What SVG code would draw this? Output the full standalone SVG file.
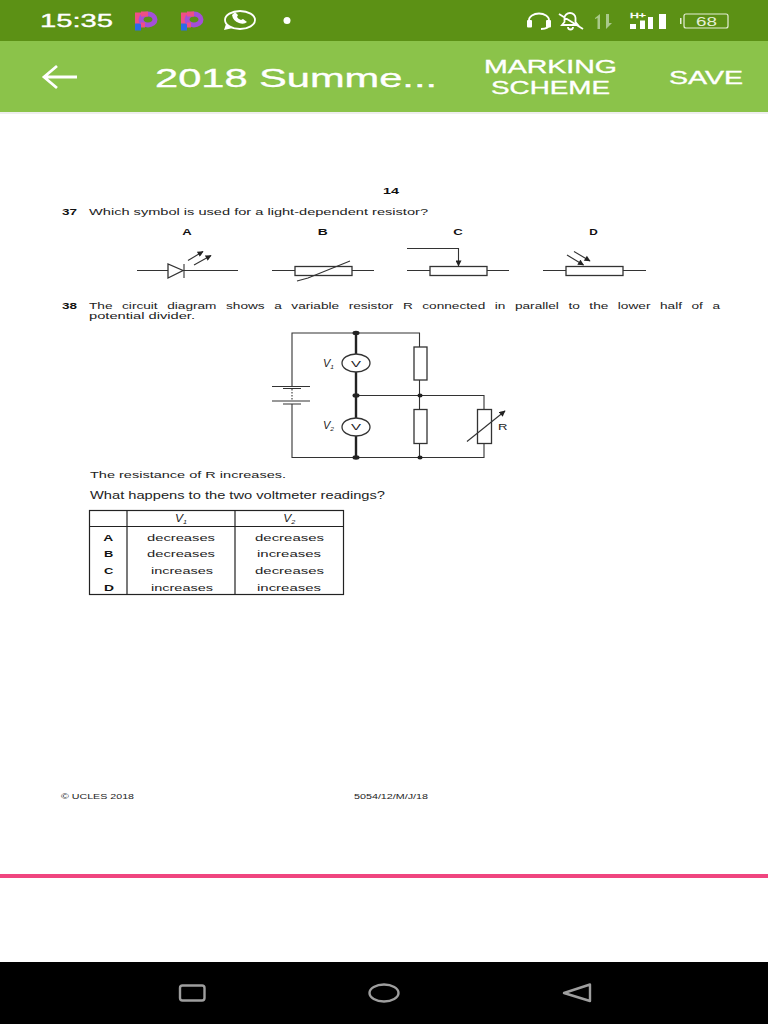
<svg xmlns="http://www.w3.org/2000/svg" width="768" height="1024" viewBox="0 0 768 1024">
<style>
text{font-family:"Liberation Sans",Arial,sans-serif;fill:#222}
.ui{fill:#fff;stroke:#fff;stroke-width:.35}
.b{font-weight:700;fill:#111}
.t{font-size:9.5px}
.w{fill:none;stroke:#333;stroke-width:1.100}
.th{fill:none;stroke:#222;stroke-width:2.400}
.r{fill:#fff;stroke:#333;stroke-width:1.300}
.nav{fill:none;stroke:#9e9e9e;stroke-width:2.400;stroke-linejoin:round}
.ic{fill:none;stroke:#fff;stroke-width:1.800}
.cell{fill:none;stroke:#222;stroke-width:1.200}
</style>
<defs>
<marker id="ah" viewBox="0 0 10 10" refX="9" refY="5" markerWidth="7" markerHeight="6" markerUnits="userSpaceOnUse" orient="auto"><path d="M0 0L10 5L0 10z" fill="#222"/></marker>
<g id="pimg">
<path d="M0 1h8v12h-8z" fill="#ef4f86"/>
<path d="M0 12h6v7h-6z" fill="#2b6be8"/>
<ellipse cx="13" cy="8" rx="7" ry="5.500" fill="none" stroke="#a44fd8" stroke-width="5"/>
<path d="M6 2.500h7M6 13.500h4" stroke="#ef4f86" stroke-width="5" fill="none"/>
</g>
</defs>
<rect width="768" height="1024" fill="#fff"/>
<g id="status-bar">
<rect width="768" height="41" fill="#5c9115"/>
<text class="ui" x="40" y="27" font-size="18.500" textLength="73" lengthAdjust="spacingAndGlyphs">15:35</text>
<use href="#pimg" x="135" y="11.500"/>
<use href="#pimg" x="181" y="11.500"/>
<ellipse class="ic" cx="240" cy="20" rx="15" ry="9"/>
<path d="M226 24L224 30L233 28Z" fill="#fff"/>
<path d="M232 15q1 6 7 8q5 2 8 -1l-4 -3l-2 1q-3 -1 -4 -3l1 -2l-3 -3z" fill="#fff"/>
<circle cx="287" cy="20.500" r="3.500" fill="#fff"/>
<path class="ic" d="M529 24v-4a10 6.500 0 0 1 20 0v4q0 5 -8 5" stroke-width="2.200"/>
<rect x="527" y="20" width="5" height="7.500" rx="1" fill="#fff"/><rect x="546" y="20" width="5" height="7.500" rx="1" fill="#fff"/>
<path class="ic" d="M562 25l2.500 -3v-4a5.500 5 0 0 1 11 0v4l2.500 3zM559 14l24 15M568 27a2 2 0 0 0 5 0" stroke-width="1.700"/>
<path d="M600 29V14l-5 4v1l2.500 -1v11zM606 14v15l6 -6h-3v-9z" fill="#a9c98a"/>
<text x="630" y="18" font-size="7" class="ui" textLength="16" lengthAdjust="spacingAndGlyphs">H+</text>
<rect x="630" y="24" width="6" height="5" fill="#fff"/><rect x="640" y="20.500" width="5" height="8.500" fill="#fff"/><rect x="648" y="17" width="5" height="12" fill="#fff"/><rect x="659" y="14" width="7" height="15" fill="#fff"/>
<rect x="684" y="14" width="44" height="14" rx="2" fill="none" stroke="#e6efd8" stroke-width="1.200"/>
<rect x="680" y="18" width="1.500" height="6" fill="#e6efd8"/>
<text x="696" y="26" font-size="12" style="fill:#e6efd8" textLength="21" lengthAdjust="spacingAndGlyphs">68</text>
</g>
<g id="app-bar">
<rect y="41" width="768" height="71" fill="#8bc34a"/>
<rect y="112" width="768" height="2" fill="#eee"/>
<path d="M77 77H45M57 66L44 77L57 88" fill="none" stroke="#fff" stroke-width="2.800"/>
<text class="ui" x="155" y="87" font-size="26.500" textLength="282" lengthAdjust="spacingAndGlyphs">2018 Summe...</text>
<text class="ui" x="484" y="73" font-size="18" textLength="133" lengthAdjust="spacingAndGlyphs">MARKING</text>
<text class="ui" x="491" y="94" font-size="18" textLength="119" lengthAdjust="spacingAndGlyphs">SCHEME</text>
<text class="ui" x="669" y="84" font-size="18" textLength="74" lengthAdjust="spacingAndGlyphs">SAVE</text>
</g>
<g id="question-37">
<text class="b t" x="383" y="194" textLength="16" lengthAdjust="spacingAndGlyphs">14</text>
<text class="b t" x="62" y="215" textLength="15" lengthAdjust="spacingAndGlyphs">37</text>
<text class="t" x="89" y="215" textLength="339" lengthAdjust="spacingAndGlyphs">Which symbol is used for a light-dependent resistor?</text>
<text class="b t" x="182.300" y="235" textLength="9.500" lengthAdjust="spacingAndGlyphs">A</text>
<text class="b t" x="317.700" y="235" textLength="10" lengthAdjust="spacingAndGlyphs">B</text>
<text class="b t" x="453.300" y="235" textLength="9.500" lengthAdjust="spacingAndGlyphs">C</text>
<text class="b t" x="589.300" y="235" textLength="8.500" lengthAdjust="spacingAndGlyphs">D</text>
</g>
<g id="symbol-A">
<path class="w" d="M137 270.500H238"/>
<path d="M168 264V278L183 270.500Z" fill="#fff" stroke="#333" stroke-width="1.300"/>
<path class="w" d="M184 264V278"/>
<path class="w" marker-end="url(#ah)" d="M188 260.500L203 251.500"/>
<path class="w" marker-end="url(#ah)" d="M194 265L211 255.500"/>
</g>
<g id="symbol-B">
<path class="w" d="M272 270.500H374"/>
<rect class="r" x="295" y="266.500" width="57" height="9"/>
<path class="w" d="M297 281L308 278L350 261"/>
</g>
<g id="symbol-C">
<path class="w" d="M407 270.500H509"/>
<rect class="r" x="430" y="266.500" width="57" height="9"/>
<path class="w" marker-end="url(#ah)" d="M407 248.500H458.500V266"/>
</g>
<g id="symbol-D">
<path class="w" d="M543 270.500H646"/>
<rect class="r" x="566" y="266.500" width="57" height="9"/>
<path class="w" marker-end="url(#ah)" d="M567 255L583.500 265"/>
<path class="w" marker-end="url(#ah)" d="M574 251.500L590 261"/>
</g>
<g id="question-38">
<text class="b t" x="62" y="309" textLength="15" lengthAdjust="spacingAndGlyphs">38</text>
<text class="t" x="89" y="309" word-spacing="4" textLength="631" lengthAdjust="spacingAndGlyphs">The circuit diagram shows a variable resistor R connected in parallel to the lower half of a</text>
<text class="t" x="89" y="319" textLength="106" lengthAdjust="spacingAndGlyphs">potential divider.</text>
</g>
<g id="connectors">
<path class="w" d="M356 333H292V386M292 404V457.500H356"/>
<path class="w" d="M292 389V401" stroke-dasharray="1.500 1.500"/>
<path class="w" d="M356 333H419.500V347M419.500 380V409M419.500 443V457.500M356 457.500H484V443M356 395.500H484V409"/>
<path class="th" d="M356 333V354M356 372V418M356 436V457.500"/>
<ellipse cx="356" cy="333" rx="3.500" ry="2.200" fill="#222"/><ellipse cx="356" cy="395.500" rx="3.500" ry="2.200" fill="#222"/><ellipse cx="356" cy="457.500" rx="3.500" ry="2.200" fill="#222"/>
<ellipse cx="420" cy="395.500" rx="2.600" ry="2" fill="#222"/><ellipse cx="420" cy="457.500" rx="2.600" ry="2" fill="#222"/>
</g>
<g id="battery">
<path d="M272 386.500H310M272 401H310" stroke="#333" stroke-width="1.200"/>
<path d="M283 388.500H301M283 404H301" stroke="#333" stroke-width="1.200"/>
</g>
<g id="voltmeter-V1">
<ellipse class="r" cx="356" cy="363" rx="14" ry="9"/>
<text class="t" x="351" y="367" textLength="10" lengthAdjust="spacingAndGlyphs">V</text>
<text x="323" y="367" font-size="10" font-style="italic" textLength="11" lengthAdjust="spacingAndGlyphs">V<tspan font-size="6" dy="2">1</tspan></text>
</g>
<g id="voltmeter-V2">
<ellipse class="r" cx="356" cy="427" rx="14" ry="9"/>
<text class="t" x="351" y="430" textLength="10" lengthAdjust="spacingAndGlyphs">V</text>
<text x="323" y="429" font-size="10" font-style="italic" textLength="11" lengthAdjust="spacingAndGlyphs">V<tspan font-size="6" dy="2">2</tspan></text>
</g>
<g id="resistor-upper"><rect class="r" x="414" y="347" width="13" height="33"/></g>
<g id="resistor-lower"><rect class="r" x="414" y="409.500" width="13" height="34"/></g>
<g id="resistor-R">
<rect class="r" x="477.500" y="409.500" width="14" height="34"/>
<path class="w" marker-end="url(#ah)" d="M467 441.500L505 411"/>
<text class="t" x="498" y="429.500" textLength="9.500" lengthAdjust="spacingAndGlyphs">R</text>
</g>
<g id="question-text">
<text class="t" x="90" y="478" textLength="196" lengthAdjust="spacingAndGlyphs">The resistance of R increases.</text>
<text x="90" y="499" font-size="11" textLength="295" lengthAdjust="spacingAndGlyphs">What happens to the two voltmeter readings?</text>
</g>
<g id="table">
<rect class="cell" x="89.500" y="510.500" width="254" height="84"/>
<path class="cell" d="M89.500 526.500H343.500M127 510.500V594.500M235 510.500V594.500"/>
<text x="175" y="522" font-size="10" font-style="italic" textLength="12" lengthAdjust="spacingAndGlyphs">V<tspan font-size="6" dy="1.500">1</tspan></text>
<text x="283.300" y="522" font-size="10" font-style="italic" textLength="12" lengthAdjust="spacingAndGlyphs">V<tspan font-size="6" dy="1.500">2</tspan></text>
<text class="b t" x="103.300" y="541" textLength="10" lengthAdjust="spacingAndGlyphs">A</text>
<text class="b t" x="104" y="557" textLength="9.300" lengthAdjust="spacingAndGlyphs">B</text>
<text class="b t" x="104" y="574" textLength="9.300" lengthAdjust="spacingAndGlyphs">C</text>
<text class="b t" x="104" y="590.500" textLength="10" lengthAdjust="spacingAndGlyphs">D</text>
<text class="t" x="147" y="541" textLength="68" lengthAdjust="spacingAndGlyphs">decreases</text>
<text class="t" x="255" y="541" textLength="69" lengthAdjust="spacingAndGlyphs">decreases</text>
<text class="t" x="147" y="557" textLength="68" lengthAdjust="spacingAndGlyphs">decreases</text>
<text class="t" x="257" y="557" textLength="64" lengthAdjust="spacingAndGlyphs">increases</text>
<text class="t" x="151" y="574" textLength="62" lengthAdjust="spacingAndGlyphs">increases</text>
<text class="t" x="255" y="574" textLength="69" lengthAdjust="spacingAndGlyphs">decreases</text>
<text class="t" x="151" y="590.500" textLength="62" lengthAdjust="spacingAndGlyphs">increases</text>
<text class="t" x="257" y="590.500" textLength="64" lengthAdjust="spacingAndGlyphs">increases</text>
</g>
<g id="footer">
<text x="61" y="799" font-size="7.500" textLength="73" lengthAdjust="spacingAndGlyphs">© UCLES 2018</text>
<text x="354" y="799" font-size="7.500" textLength="74" lengthAdjust="spacingAndGlyphs">5054/12/M/J/18</text>
</g>
<rect id="pink-line" y="874" width="768" height="4" fill="#f0457f"/>
<g id="nav-bar">
<rect y="962" width="768" height="62" fill="#000"/>
<rect class="nav" x="180" y="985.500" width="24.500" height="15" rx="2.500"/>
<ellipse class="nav" cx="384" cy="993" rx="14.500" ry="8.500"/>
<path class="nav" d="M564 993L590 984.500V1001Z"/>
</g>
</svg>
